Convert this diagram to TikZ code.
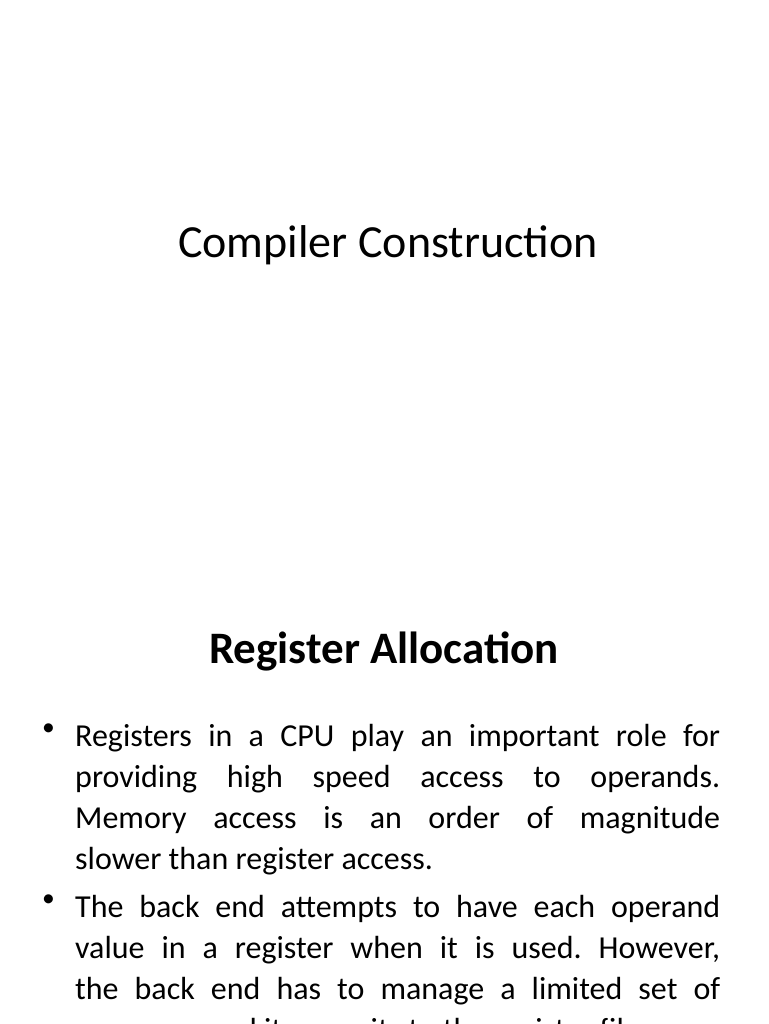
\documentclass[tikz,border=0pt]{standalone}
\usepackage{fontspec}
\setmainfont{Carlito}
\frenchspacing
\begin{document}
\begin{tikzpicture}[x=1pt,y=-1pt,
  body/.style={anchor=north west,text width=645pt,align=justify,inner sep=0pt,font=\fontsize{32}{41}\selectfont},
  dot/.style={anchor=north west,inner sep=0pt,font=\fontsize{32}{41}\selectfont}]
\useasboundingbox (0,0) rectangle (768,1024);
\clip (0,0) rectangle (768,1024);
\fill[white] (0,0) rectangle (768,1024);
\node (title) at (388,245) {\fontsize{46}{52}\selectfont Compiler Construction};
\node (head) at (384,651) {\fontsize{45}{52}\selectfont\bfseries Register Allocation};
\node[dot] (b1) at (42,724) {\scalebox{0.8}{•}};
\node[body] (t1) at (75,724) {Registers in a CPU play an important role for\linebreak providing high speed access to operands.\linebreak Memory access is an order of magnitude\linebreak slower than register access.};
\node[dot] (b2) at (42,895) {\scalebox{0.8}{•}};
\node[body] (t2) at (75,895) {The back end attempts to have each operand\linebreak value in a register when it is used. However,\linebreak the back end has to manage a limited set of\linebreak resources and it commits to the register file.};
\end{tikzpicture}
\end{document}
